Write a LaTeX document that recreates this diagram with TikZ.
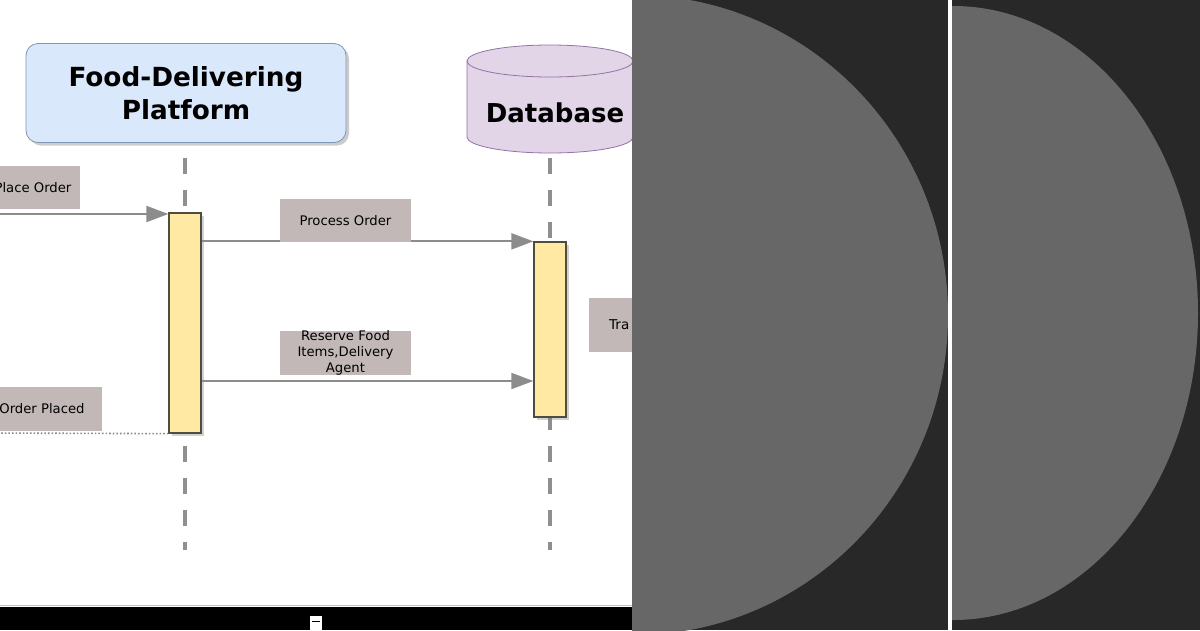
\documentclass[tikz,border=0pt]{standalone}
\usepackage{fontspec}
\setmainfont{DejaVu Sans}
\usetikzlibrary{arrows.meta,shadows}

\definecolor{actorfill}{HTML}{DAE8FC}
\definecolor{actorline}{HTML}{7F97B5}
\definecolor{dbfill}{HTML}{E1D5E7}
\definecolor{dbline}{HTML}{9673A6}
\definecolor{actfill}{HTML}{FFE9A3}
\definecolor{actline}{HTML}{4D4D40}
\definecolor{labelfill}{HTML}{C2B8B8}
\definecolor{msggrey}{HTML}{8C8C8C}
\definecolor{lifegrey}{HTML}{8F8F8F}
\definecolor{panel}{HTML}{282828}
\definecolor{disk}{HTML}{676767}

\tikzset{
  actor/.style={draw=actorline, fill=actorfill, line width=0.8pt, rounded corners=12pt,
    minimum width=320pt, minimum height=99pt, align=center,
    font=\fontsize{26.3}{33}\selectfont\bfseries,
    drop shadow={shadow xshift=3pt, shadow yshift=-3pt, opacity=0.4}},
  dbtext/.style={font=\fontsize{26}{30}\selectfont\bfseries},
  lifeline/.style={draw=lifegrey, line width=3.5pt, dash pattern=on 16pt off 16pt},
  activation/.style={draw=actline, fill=actfill, line width=1.3pt, minimum width=32pt,
    drop shadow={shadow xshift=3pt, shadow yshift=-3pt, opacity=0.35}},
  msg/.style={draw=msggrey, line width=2pt, -{Triangle[length=22pt,width=16pt]}},
  reply/.style={draw=msggrey, line width=1.6pt, dotted},
  msglabel/.style={fill=labelfill, inner sep=0pt, minimum width=131pt, minimum height=43pt,
    align=center, font=\fontsize{13.2}{16}\selectfont},
}

\begin{document}
\begin{tikzpicture}[x=1pt, y=-1pt]
  \useasboundingbox (0,0) rectangle (1200,630);
  % left panel
  \fill[white] (0,0) rectangle (632,606);
  \begin{scope}
    \clip (0,0) rectangle (632,606);

    \node[actor] (platform) at (186,93) {Food-Delivering\\Platform};

    % database cylinder
    \filldraw[fill=dbfill, draw=dbline, line width=0.8pt]
      (467,61) -- (467,137) arc[start angle=180, end angle=0, x radius=83, y radius=16]
      -- (633,61) arc[start angle=0, end angle=-180, x radius=83, y radius=16] -- cycle;
    \draw[dbline, line width=0.8pt] (467,61) arc[start angle=180, end angle=0, x radius=83, y radius=16];
    \node[dbtext] (db) at (555,113) {Database};

    \coordinate (platformend) at (185,550);
    \coordinate (dbend) at (550,550);
    \draw[lifeline] (185,158) -- (platformend);
    \draw[lifeline] (550,158) -- (dbend);

    \node[activation, minimum height=220pt] (act1) at (185,323) {};
    \node[activation, minimum height=175pt] (act2) at (550,329.5) {};

    \coordinate (placestart) at (-20,214);
    \coordinate (resv) at (0,381);
    \coordinate (orderend) at (-20,433);

    \draw[msg] (placestart) -- (act1.west |- placestart);
    \draw[msg] (act1.east |- act2.north) -- (act2.north west);
    \draw[msg] (act1.east |- resv) -- (act2.west |- resv);
    \draw[reply] (act1.south west) -- (orderend);

    \node[msglabel, minimum width=98pt] (placelbl) at (31,187.5) {\hspace*{4pt}Place Order};
    \node[msglabel] (processlbl) at (345.5,220.5) {Process Order};
    \node[msglabel] (reservelbl) at (345.5,353) {Reserve Food\\Items,Delivery\\Agent};
    \node[msglabel, minimum width=120pt, minimum height=44pt] (orderlbl) at (42,409) {Order Placed};

    \fill[labelfill] (589,298) rectangle (640,352);
    \node[anchor=west, inner sep=0pt, font=\fontsize{13.5}{16}\selectfont] (tralbl) at (609,325) {Tra};
  \end{scope}

  % bottom bar
  \draw[lightgray, line width=1pt] (0,605.5) -- (632,605.5);
  \fill[black] (0,607) rectangle (632,630);
  \fill[white] (310,616) rectangle (322,630);
  \draw[black, line width=1pt] (312,621) -- (320,621);

  % right panels
  \fill[panel] (632,0) rectangle (948,630);
  \begin{scope}
    \clip (632,0) rectangle (948,630);
    \fill[disk] (634,315) ellipse [x radius=314, y radius=320];
  \end{scope}
  \fill[white] (948,0) rectangle (952,630);
  \fill[panel] (952,0) rectangle (1200,630);
  \begin{scope}
    \clip (952,0) rectangle (1200,630);
    \fill[disk] (953,313) ellipse [x radius=245, y radius=307];
  \end{scope}
\end{tikzpicture}
\end{document}
